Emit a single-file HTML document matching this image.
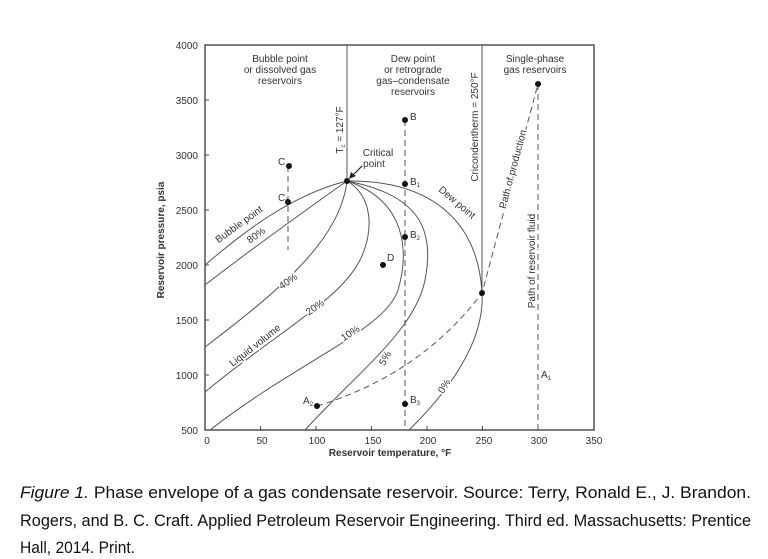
<!DOCTYPE html>
<html><head><meta charset="utf-8"><style>
body{margin:0;background:#fff}
svg{display:block}
text{font-family:"Liberation Sans",sans-serif;fill:#333}
.l{font-size:10px}
.c{font-size:17px;fill:#111}
</style></head><body>
<svg width="768" height="559" viewBox="0 0 768 559">
<rect x="205" y="45" width="389" height="385" fill="none" stroke="#444" stroke-width="1.4"/>
<g stroke="#444" stroke-width="1">
<line x1="205" y1="100" x2="209" y2="100"/><line x1="205" y1="155" x2="209" y2="155"/><line x1="205" y1="210" x2="209" y2="210"/><line x1="205" y1="265" x2="209" y2="265"/><line x1="205" y1="320" x2="209" y2="320"/><line x1="205" y1="375" x2="209" y2="375"/>
<line x1="260.5" y1="430" x2="260.5" y2="426"/><line x1="316" y1="430" x2="316" y2="426"/><line x1="371.5" y1="430" x2="371.5" y2="426"/><line x1="427" y1="430" x2="427" y2="426"/><line x1="482.5" y1="430" x2="482.5" y2="426"/><line x1="538" y1="430" x2="538" y2="426"/>
</g>
<g class="l" text-anchor="end">
<text x="198" y="49">4000</text><text x="198" y="104">3500</text><text x="198" y="159">3000</text><text x="198" y="214">2500</text><text x="198" y="269">2000</text><text x="198" y="324">1500</text><text x="198" y="379">1000</text><text x="198" y="434">500</text>
</g>
<g class="l" text-anchor="middle">
<text x="207" y="444">0</text><text x="262" y="444">50</text><text x="317" y="444">100</text><text x="373" y="444">150</text><text x="428" y="444">200</text><text x="484" y="444">250</text><text x="539" y="444">300</text><text x="594" y="444">350</text>
</g>
<text x="390" y="456" text-anchor="middle" style="font-size:10px;font-weight:bold">Reservoir temperature, °F</text>
<text transform="translate(164,240) rotate(-90)" text-anchor="middle" style="font-size:10px;font-weight:bold">Reservoir pressure, psia</text>

<g stroke="#555" stroke-width="1" fill="none">
<line x1="347" y1="45" x2="347" y2="181"/>
<line x1="482" y1="45" x2="482" y2="293"/>
<path d="M205,265 C240,235 290,195 347,181"/>
<path d="M205,285 C250,250 320,200 347,181"/>
<path d="M205,347 C280,290 340,240 347,181"/>
<path d="M205,392 C280,330 340,300 360,260 C375,230 372,195 347,181"/>
<path d="M210,430 C300,360 385,330 398,290 C410,250 405,200 347,181"/>
<path d="M305,430 C360,370 415,330 425,280 C435,230 420,195 347,181"/>
<path d="M409,430 C450,390 485,340 482,293 C478,220 430,180 347,181"/>
</g>
<g stroke="#555" stroke-width="1" fill="none" stroke-dasharray="6,4">
<line x1="288" y1="166" x2="288" y2="250"/>
<line x1="405" y1="120" x2="405" y2="430"/>
<line x1="538" y1="84" x2="538" y2="430"/>
<path d="M317,406 Q420,375 482,293 L538,84"/>
</g>
<g fill="#111">
<circle cx="347" cy="181" r="3"/><circle cx="289" cy="166" r="3"/><circle cx="288" cy="202" r="3"/>
<circle cx="405" cy="120" r="3"/><circle cx="405" cy="184" r="3"/><circle cx="405" cy="237" r="3"/>
<circle cx="383" cy="265" r="3"/><circle cx="317" cy="406" r="3"/><circle cx="405" cy="404" r="3"/>
<circle cx="482" cy="293" r="3"/><circle cx="538" cy="84" r="3"/>
</g>
<path d="M363,165 L351,177" stroke="#222" stroke-width="1.2"/>
<path d="M349,179 L351,172 L356,176 Z" fill="#222"/>
<g class="l" text-anchor="middle" style="paint-order:stroke;stroke:#fff;stroke-width:3px">
<text x="280" y="62">Bubble point</text><text x="280" y="73">or dissolved gas</text><text x="280" y="84">reservoirs</text>
<text x="413" y="62">Dew point</text><text x="413" y="73">or retrograde</text><text x="413" y="84">gas–condensate</text><text x="413" y="95">reservoirs</text>
<text x="535" y="62">Single-phase</text><text x="535" y="73">gas reservoirs</text>
<text x="378" y="156">Critical</text><text x="374" y="167">point</text>
<text transform="translate(241,227) rotate(-36)">Bubble point</text>
<text transform="translate(258,238) rotate(-35)">80%</text>
<text transform="translate(290,284) rotate(-35)">40%</text>
<text transform="translate(317,310) rotate(-35)">20%</text>
<text transform="translate(352,336) rotate(-33)">10%</text>
<text transform="translate(257,348) rotate(-38)">Liquid volume</text>
<text transform="translate(388,360) rotate(-60)">5%</text>
<text transform="translate(447,388) rotate(-58)">0%</text>
<text transform="translate(455,205) rotate(40)">Dew point</text>
<text transform="translate(516,170) rotate(-75)">Path of production</text>
<text transform="translate(535,261) rotate(-90)">Path of reservoir fluid</text>
<text transform="translate(343,130) rotate(-90)">T<tspan font-size="6" dy="2">c</tspan><tspan dy="-2"> = 127°F</tspan></text>
<text transform="translate(478,127) rotate(-90)">Cricondentherm = 250°F</text>
</g>
<g class="l">
<text x="278" y="165">C</text><text x="278" y="201">C<tspan font-size="6" dy="2">1</tspan></text>
<text x="410" y="120">B</text><text x="410" y="185">B<tspan font-size="6" dy="2">1</tspan></text>
<text x="410" y="238">B<tspan font-size="6" dy="2">2</tspan></text><text x="387" y="261">D</text>
<text x="303" y="404">A<tspan font-size="6" dy="2">2</tspan></text><text x="410" y="403">B<tspan font-size="6" dy="2">3</tspan></text>
<text x="541" y="378">A<tspan font-size="6" dy="2">1</tspan></text>
</g>
<text class="c" x="20" y="498" textLength="731" lengthAdjust="spacingAndGlyphs"><tspan font-style="italic">Figure 1.</tspan> Phase envelope of a gas condensate reservoir. Source: Terry, Ronald E., J. Brandon.</text>
<text class="c" x="20" y="526" textLength="731" lengthAdjust="spacingAndGlyphs">Rogers, and B. C. Craft. Applied Petroleum Reservoir Engineering. Third ed. Massachusetts: Prentice</text>
<text class="c" x="20" y="553" textLength="115" lengthAdjust="spacingAndGlyphs">Hall, 2014. Print.</text>
</svg>
</body></html>
